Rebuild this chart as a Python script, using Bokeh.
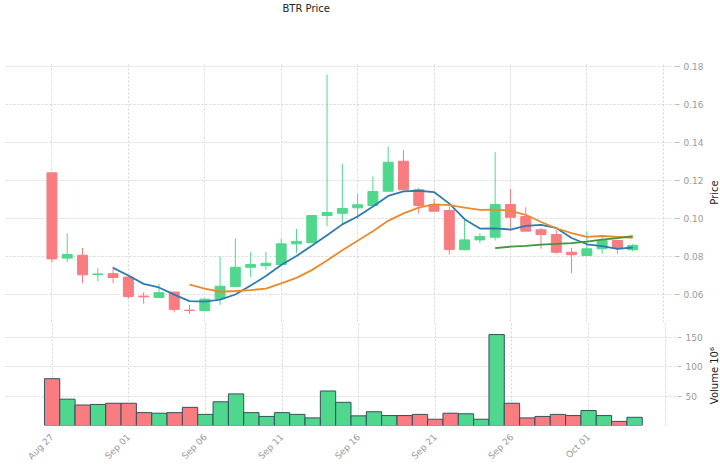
import pandas as pd
from bokeh.plotting import figure
from bokeh.layouts import column, row
from bokeh.models import (ColumnDataSource, FixedTicker, Range1d, DatetimeTickFormatter,
                          NumeralTickFormatter)
from bokeh.embed import file_html
from bokeh.resources import INLINE

# ---------------- data ----------------
dates = pd.date_range("2023-08-27", "2023-10-04", freq="D")
opens = [0.1242, 0.0793, 0.0808, 0.0706, 0.0711, 0.0693, 0.0593, 0.0586, 0.0614, 0.0519,
         0.0517, 0.0579, 0.0644, 0.0745, 0.0753, 0.0759, 0.0868, 0.0874, 0.1017, 0.1029,
         0.1058, 0.1070, 0.1145, 0.1303, 0.1153, 0.1075, 0.1044, 0.0837, 0.0889, 0.0903,
         0.1075, 0.1012, 0.0942, 0.0917, 0.0824, 0.0807, 0.0842, 0.0886, 0.0837]
highs = [0.1245, 0.0924, 0.0847, 0.0740, 0.0749, 0.0700, 0.0614, 0.0658, 0.0617, 0.0547,
         0.0580, 0.0802, 0.0895, 0.0824, 0.0826, 0.0895, 0.0947, 0.1020, 0.1759, 0.1290,
         0.1132, 0.1223, 0.1381, 0.1363, 0.1163, 0.1105, 0.1065, 0.0995, 0.0924, 0.1351,
         0.1158, 0.1061, 0.0953, 0.0940, 0.0847, 0.0935, 0.0903, 0.0890, 0.0868]
lows = [0.0772, 0.0772, 0.0661, 0.0672, 0.0661, 0.0579, 0.0553, 0.0584, 0.0508, 0.0500,
        0.0512, 0.0547, 0.0643, 0.0693, 0.0732, 0.0759, 0.0819, 0.0874, 0.0961, 0.0970,
        0.1000, 0.1070, 0.1145, 0.1153, 0.1026, 0.1038, 0.0811, 0.0837, 0.0872, 0.0886,
        0.0935, 0.0935, 0.0842, 0.0816, 0.0714, 0.0807, 0.0816, 0.0816, 0.0829]
closes = [0.0789, 0.0812, 0.0705, 0.0710, 0.0691, 0.0591, 0.0589, 0.0611, 0.0523, 0.0517,
          0.0577, 0.0645, 0.0745, 0.0759, 0.0766, 0.0868, 0.0881, 0.1017, 0.1033, 0.1054,
          0.1074, 0.1144, 0.1298, 0.1153, 0.1070, 0.1040, 0.0838, 0.0889, 0.0907, 0.1075,
          0.1008, 0.0935, 0.0917, 0.0824, 0.0811, 0.0842, 0.0886, 0.0845, 0.0860]
volumes = [80, 45, 35, 36, 38, 38, 22, 21, 22, 31,
           19, 40.5, 54, 22, 15.5, 22, 19, 13, 59, 39.6,
           16.5, 23.5, 17, 17, 19, 10.7, 21, 20, 10.7, 155.4,
           38, 13, 15.5, 19, 17, 25.6, 17, 7, 14]
price_ticks = [0.06, 0.08, 0.10, 0.12, 0.14, 0.16, 0.18]
volume_ticks = [50, 100, 150]
ma_windows = [5, 10, 30]
title_text = "BTR Price"
price_label = "Price"
volume_label = "Volume  10\u2076"

# ---------------- styles ----------------
UP = "#4fd88d"
DOWN = "#f87c80"
MA_COLORS = ["#2e7bb0", "#ea8a2c", "#3d963a"]
FONT = "DejaVu Sans"
GRID = "#d6d6d6"
TICK_TXT = "#9a9a9a"
TXT = "#222222"
LAB_W = 14            # strip holding the rotated y labels
W = 720 - LAB_W
LB, RB = 5, 29
TH = 20               # title strip height
PH, PF = 302, 260     # price figure height, frame height
VH, VF = 146, 110     # volume figure height, frame height

df = pd.DataFrame({"date": dates, "open": opens, "high": highs, "low": lows,
                   "close": closes, "volume": volumes})
df["color"] = [UP if c >= o else DOWN for o, c in zip(df["open"], df["close"])]
df["top"] = df[["open", "close"]].max(axis=1)
df["bottom"] = df[["open", "close"]].min(axis=1)
src = ColumnDataSource(df)

DAY = 86400000
x_start = dates[0] - pd.Timedelta(hours=3.04 * 24)
x_end = dates[0] + pd.Timedelta(hours=40.8 * 24)
xr = Range1d(start=x_start, end=x_end)

def ms(t):
    return int(pd.Timestamp(t).value // 10**6)

axis_ticks = [ms(d) for d in dates[::5]]
grid_ticks = axis_ticks + [ms(dates[0] + pd.Timedelta(days=40))]

fmt = DatetimeTickFormatter(days="%b %d", months="%b %d", hours="%b %d",
                            years="%b %d", hourmin="%b %d")

def style_yaxis(ax):
    ax.axis_line_color = None
    ax.major_tick_line_color = "#bbbbbb"
    ax.major_tick_out = 4
    ax.major_tick_in = 0
    ax.minor_tick_line_color = None
    ax.major_label_text_font = FONT
    ax.major_label_text_font_size = "9px"
    ax.major_label_text_color = TICK_TXT
    ax.major_label_standoff = 4

def style_grid(fig):
    for g in (fig.xgrid, fig.ygrid):
        g.grid_line_color = GRID
        g.grid_line_dash = "2 2"
        g.grid_line_width = 1

def text_strip(width, height, text, location, border_top, border_bottom, **title_kw):
    f = figure(width=width, height=height, x_axis_location=None, y_axis_location=None,
               output_backend="svg", toolbar_location=None, title_location=location,
               min_border_left=0, min_border_right=0,
               min_border_top=border_top, min_border_bottom=border_bottom)
    f.outline_line_color = None
    f.grid.visible = False
    f.title.text = text
    f.title.text_font = FONT
    f.title.text_font_size = "10px"
    f.title.text_font_style = "normal"
    f.title.text_color = TXT
    for k, val in title_kw.items():
        setattr(f.title, k, val)
    return f

# ---------------- title strip ----------------
t = text_strip(720, TH, title_text, "above", 0, 0, align="left", offset=277 + LB,
               standoff=4, vertical_align="top")

# ---------------- price figure ----------------
p = figure(x_axis_type="datetime", x_range=xr, y_range=Range1d(0.0454, 0.1823),
           width=W, height=PH, y_axis_location="right",
           output_backend="svg", toolbar_location=None,
           min_border_left=LB, min_border_bottom=0, min_border_top=PH - PF, min_border_right=RB)
p.outline_line_color = None

p.segment(x0="date", y0="high", x1="date", y1="low", color="color", line_width=1, source=src)
p.vbar(x="date", width=0.65 * DAY, top="top", bottom="bottom", fill_color="color",
       line_color="color", line_width=1, source=src)

for w, col in zip(ma_windows, MA_COLORS):
    ma = pd.Series(closes).rolling(w).mean()
    m = ma.notna()
    p.line(x=list(dates[m.values]), y=list(ma[m]), line_color=col, line_width=1.8)

p.xaxis.visible = False
p.xgrid.ticker = FixedTicker(ticks=grid_ticks)
p.yaxis.ticker = FixedTicker(ticks=price_ticks)
p.ygrid.ticker = FixedTicker(ticks=price_ticks)
p.yaxis.formatter = NumeralTickFormatter(format="0.00")
for ax in p.yaxis:
    style_yaxis(ax)
style_grid(p)
p_lab = text_strip(LAB_W, PH, price_label, "left", PH - PF, 0, align="center", standoff=1)

# ---------------- volume figure ----------------
v = figure(x_axis_type="datetime", x_range=xr, y_range=Range1d(0, 176),
           width=W, height=VH, y_axis_location="right",
           output_backend="svg", toolbar_location=None,
           min_border_left=LB, min_border_top=0, min_border_right=RB,
           min_border_bottom=VH - VF)
v.outline_line_color = None
v.vbar(x="date", width=DAY, top="volume", bottom=0, fill_color="color",
       line_color="#34505f", line_width=1, source=src)
v.xaxis.ticker = FixedTicker(ticks=axis_ticks)
v.xgrid.ticker = FixedTicker(ticks=grid_ticks)
v.xaxis.formatter = fmt
v.xaxis.major_label_orientation = 0.785398
v.xaxis.axis_line_color = None
v.xaxis.major_tick_line_color = None
v.xaxis.minor_tick_line_color = None
v.xaxis.major_label_text_font = FONT
v.xaxis.major_label_text_font_size = "9px"
v.xaxis.major_label_text_color = TICK_TXT
v.xaxis.major_label_standoff = 4
v.yaxis.ticker = FixedTicker(ticks=volume_ticks)
v.ygrid.ticker = FixedTicker(ticks=volume_ticks)
for ax in v.yaxis:
    style_yaxis(ax)
style_grid(v)
v_lab = text_strip(LAB_W, VH, volume_label, "left", 0, VH - VF, align="center", standoff=1)

layout = column(t, row(p, p_lab, spacing=0), row(v, v_lab, spacing=0), spacing=0)
open("out.html", "w").write(file_html(layout, INLINE))
